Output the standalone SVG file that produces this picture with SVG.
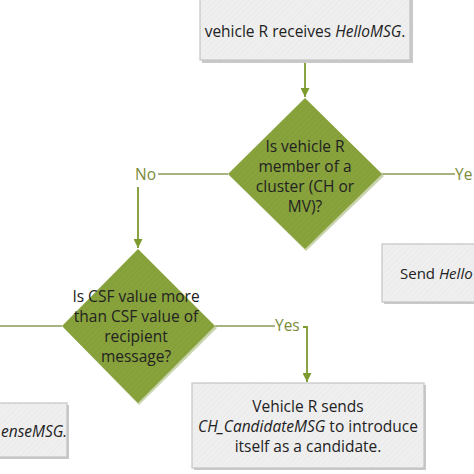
<svg xmlns="http://www.w3.org/2000/svg" width="474" height="474" viewBox="0 0 474 474">
<style>
.box{fill:url(#hatch);stroke:#c4c4c4;stroke-width:1.2}
.shadow{fill:#c9c9c9}
.dia{fill:url(#stripes)}
.dshadow{fill:#c9d3ad}
.t{font-family:"Open Sans","Noto Sans",sans-serif;font-size:15.5px;fill:#222;text-anchor:middle}
.it{font-style:italic}
.lbl{font-family:"Open Sans","Noto Sans",sans-serif;font-size:15.5px;fill:#7b8b3c}
.ln{fill:none;stroke:#8a9a58;stroke-width:1.5}
.ar{fill:none;stroke:#7d9a2e;stroke-width:1.8}
</style>
<defs>
<pattern id="hatch" width="4" height="4" patternUnits="userSpaceOnUse" patternTransform="rotate(45)">
<rect width="4" height="4" fill="#efefef"/>
<line x1="0" y1="0" x2="0" y2="4" stroke="#e6e6e6" stroke-width="1"/>
</pattern>
<pattern id="stripes" width="4" height="4" patternUnits="userSpaceOnUse" patternTransform="rotate(45)">
<rect width="4" height="4" fill="#88a23c"/>
<line x1="0" y1="0" x2="0" y2="4" stroke="#7f9936" stroke-width="1.2"/>
</pattern>
<marker id="ah" viewBox="0 0 10 10" refX="10" refY="5" markerWidth="9" markerHeight="9" markerUnits="userSpaceOnUse" orient="auto">
<path d="M0,0 L10,5 L0,10 z" fill="#7d9a2e"/>
</marker>
</defs>

<g id="connectors">
<line class="ar" x1="305" y1="61" x2="305" y2="97" marker-end="url(#ah)"/>
<line class="ln" x1="228" y1="174" x2="158" y2="174"/>
<line class="ar" x1="138" y1="187" x2="138" y2="248" marker-end="url(#ah)"/>
<line class="ln" x1="382" y1="174" x2="455" y2="174"/>
<line class="ln" x1="62" y1="326" x2="0" y2="326"/>
<line class="ln" x1="215" y1="326" x2="275" y2="326"/>
<polyline class="ar" points="303,327 307,327 307,382" marker-end="url(#ah)"/>
<text class="lbl" x="135" y="180">No</text>
<text class="lbl" x="455" y="180">Ye</text>
<text class="lbl" x="275" y="331">Yes</text>
</g>

<g id="start">
<rect class="shadow" x="202" y="-4" width="211" height="67"/>
<rect class="box" x="200" y="-6" width="210" height="66"/>
<text class="t" x="305" y="37">vehicle R receives <tspan class="it">HelloMSG</tspan>.</text>
</g>

<g id="decision1">
<polygon class="dshadow" points="306,100 384,176 306,251 230,176"/>
<polygon class="dia" points="305,98 382,174 305,249 228,174"/>
<text class="t" x="305" y="152">Is vehicle R</text>
<text class="t" x="305" y="172">member of a</text>
<text class="t" x="305" y="192">cluster (CH or</text>
<text class="t" x="305" y="212">MV)?</text>
</g>

<g id="sendHello">
<rect class="shadow" x="384" y="246" width="95" height="58"/>
<rect class="box" x="382" y="244" width="95" height="58"/>
<text class="t" x="400" y="279" style="text-anchor:start;font-size:15px">Send <tspan class="it">Hello</tspan></text>
</g>

<g id="decision2">
<polygon class="dshadow" points="139,251 217,328 139,405 64,328"/>
<polygon class="dia" points="138,249 215,326 138,403 62,326"/>
<text class="t" x="136" y="302">Is CSF value more</text>
<text class="t" x="136" y="322">than CSF value of</text>
<text class="t" x="136" y="342">recipient</text>
<text class="t" x="136" y="362">message?</text>
</g>

<g id="sendResponse">
<rect class="shadow" x="-4" y="405" width="73" height="54"/>
<rect class="box" x="-6" y="403" width="73" height="54"/>
<text class="t it" x="1" y="437" style="text-anchor:start">enseMSG.</text>
</g>

<g id="candidate">
<rect class="shadow" x="194" y="385" width="232" height="85"/>
<rect class="box" x="192" y="383" width="232" height="85"/>
<text class="t" x="308" y="412">Vehicle R sends</text>
<text class="t" x="308" y="432"><tspan class="it">CH_CandidateMSG</tspan> to introduce</text>
<text class="t" x="308" y="452">itself as a candidate.</text>
</g>
</svg>
